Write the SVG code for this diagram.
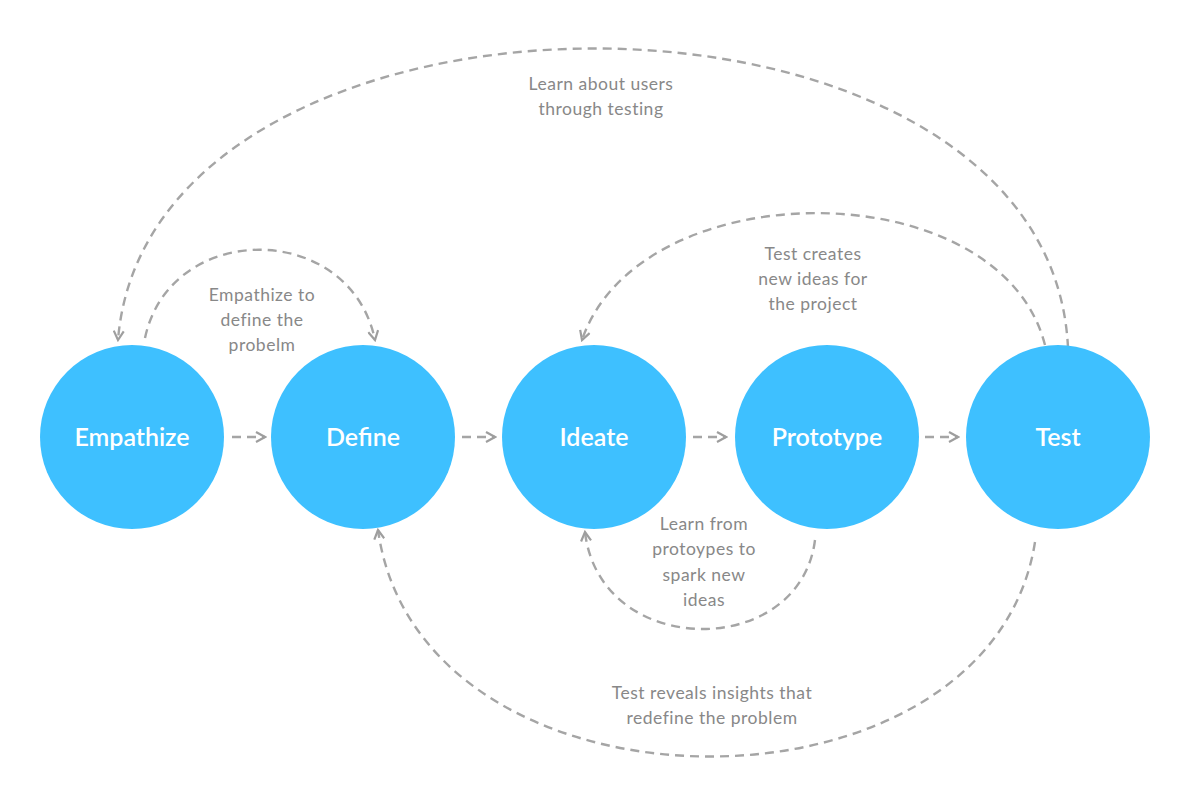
<svg xmlns="http://www.w3.org/2000/svg" width="1200" height="795" viewBox="0 0 1200 795">
<defs>
<marker id="ah" viewBox="0 0 12 12" refX="10" refY="6" markerWidth="12" markerHeight="12" markerUnits="userSpaceOnUse" orient="auto">
<path d="M1,1 L10,6 L1,11" fill="none" stroke="#9e9e9e" stroke-width="2.2"/>
</marker>
<style>
.n{fill:#3ec0ff}
.nt{font-family:Lato,"Noto Sans",sans-serif;font-size:25px;fill:#fff;text-anchor:middle;font-weight:600}
.c{fill:none;stroke:#a5a5a5;stroke-width:2.4;stroke-dasharray:9 6;marker-end:url(#ah)}
.l{font-family:Lato,"Noto Sans",sans-serif;font-size:17.5px;fill:#888;text-anchor:middle;letter-spacing:0.5px}
</style>
</defs>
<rect width="1200" height="795" fill="#fff"/>
<g id="connectors">
<path class="c" d="M1068,348 C1050,-50 150,-50 118,340"/>
<path class="c" d="M145,338 C170,220 350,220 375,340"/>
<path class="c" d="M1045,345 C1000,170 640,170 582,340"/>
<path class="c" d="M815,540 C800,660 600,660 585,532"/>
<path class="c" d="M1035,542 C990,830 420,830 378,530"/>
<path class="c" d="M232,437 H265"/>
<path class="c" d="M462,437 H495"/>
<path class="c" d="M693,437 H726"/>
<path class="c" d="M925,437 H958"/>
</g>
<g id="empathize"><circle class="n" cx="132" cy="437" r="92"/><text class="nt" x="132" y="446">Empathize</text></g>
<g id="define"><circle class="n" cx="363" cy="437" r="92"/><text class="nt" x="363" y="446">Define</text></g>
<g id="ideate"><circle class="n" cx="594" cy="437" r="92"/><text class="nt" x="594" y="446">Ideate</text></g>
<g id="prototype"><circle class="n" cx="827" cy="437" r="92"/><text class="nt" x="827" y="446">Prototype</text></g>
<g id="test"><circle class="n" cx="1058" cy="437" r="92"/><text class="nt" x="1058" y="446">Test</text></g>
<g id="labels">
<text class="l" x="601" y="90">Learn about users</text>
<text class="l" x="601" y="115">through testing</text>
<text class="l" x="262" y="301">Empathize to</text>
<text class="l" x="262" y="326">define the</text>
<text class="l" x="262" y="351">probelm</text>
<text class="l" x="813" y="260">Test creates</text>
<text class="l" x="813" y="285">new ideas for</text>
<text class="l" x="813" y="310">the project</text>
<text class="l" x="704" y="530">Learn from</text>
<text class="l" x="704" y="555">protoypes to</text>
<text class="l" x="704" y="581">spark new</text>
<text class="l" x="704" y="606">ideas</text>
<text class="l" x="712" y="699">Test reveals insights that</text>
<text class="l" x="712" y="724">redefine the problem</text>
</g>
</svg>
